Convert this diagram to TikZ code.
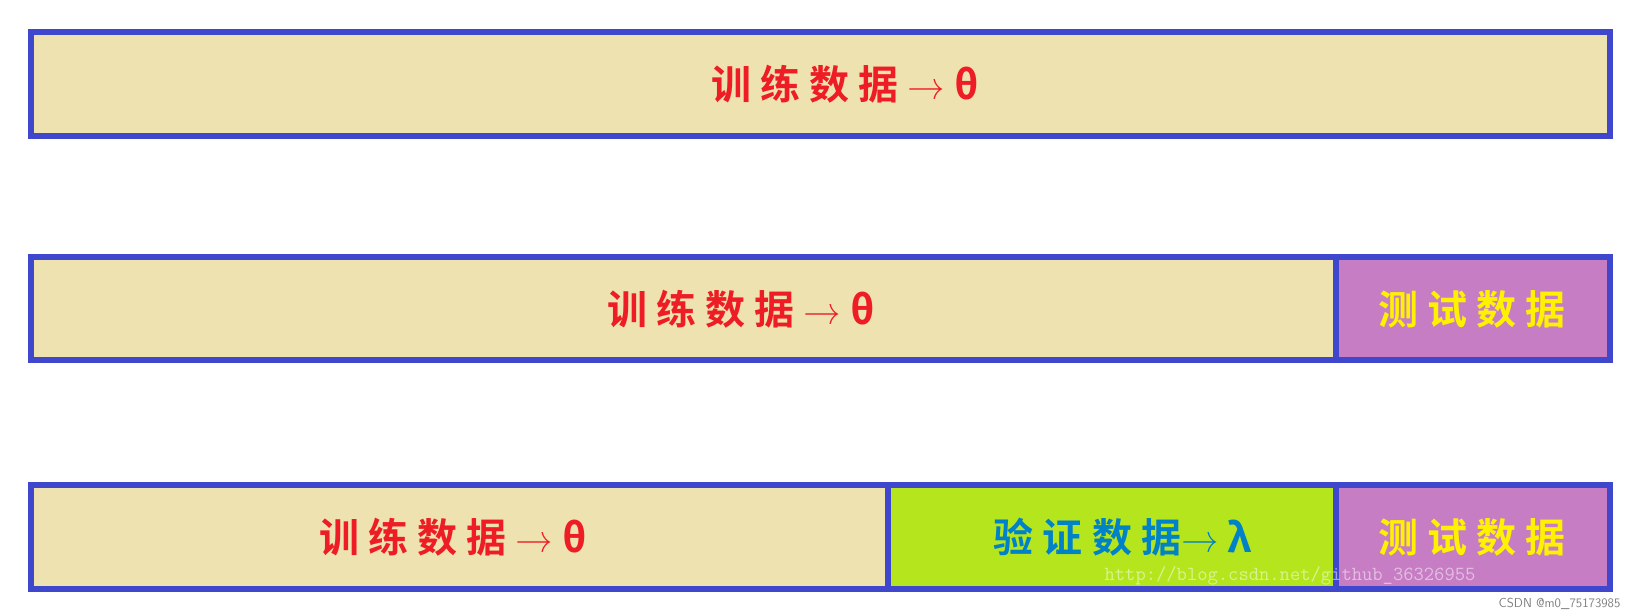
\documentclass[tikz,border=0pt]{standalone}
\usepackage{fontspec}
\newfontfamily\cjk{Noto Sans CJK SC Bold}
\definecolor{bd}{HTML}{3F48CC}
\definecolor{tr}{HTML}{EEE3B0}
\definecolor{va}{HTML}{B5E61D}
\definecolor{te}{HTML}{C77DC4}
\definecolor{rd}{HTML}{EE1C24}
\definecolor{bl}{HTML}{0082C8}
\definecolor{ye}{HTML}{FFF200}
\begin{document}
\begin{tikzpicture}[x=1pt,y=1pt,
  seg/.style={draw=bd,line width=6pt},
  lab/.style={font=\cjk\fontsize{40}{44}\selectfont}]
\useasboundingbox (0,0) rectangle (1636,614);
% row 1
\path[seg,fill=tr] (31,582) rectangle (1610,478);
\node[lab,text=rd] (t1) at (845,530) {训 练 数 据 \textrm{→} θ};
% row 2
\path[seg,fill=tr] (31,357) rectangle (1336,254);
\path[seg,fill=te] (1336,357) rectangle (1610,254);
\node[lab,text=rd] (t2) at (741,305) {训 练 数 据 \textrm{→} θ};
\node[lab,text=ye] (s2) at (1472,305) {测 试 数 据};
% row 3
\path[seg,fill=tr] (31,129) rectangle (888,25);
\path[seg,fill=va] (888,129) rectangle (1336,25);
\path[seg,fill=te] (1336,129) rectangle (1610,25);
\node[lab,text=rd] (t3) at (453,77) {训 练 数 据 \textrm{→} θ};
\node[lab,text=bl] (v3) at (1123,77) {验 证 数 据\textrm{→} λ};
\node[lab,text=ye] (s3) at (1472,77) {测 试 数 据};
\node[font=\ttfamily\fontsize{20}{22}\selectfont,text=white,opacity=0.5] (w1) at (1290,38) {http://blog.csdn.net/github\_36326955};
\node[font=\sffamily\fontsize{13}{15}\selectfont,text=gray,anchor=east] (w2) at (1624,10) {CSDN @m0\_75173985};
\end{tikzpicture}
\end{document}
